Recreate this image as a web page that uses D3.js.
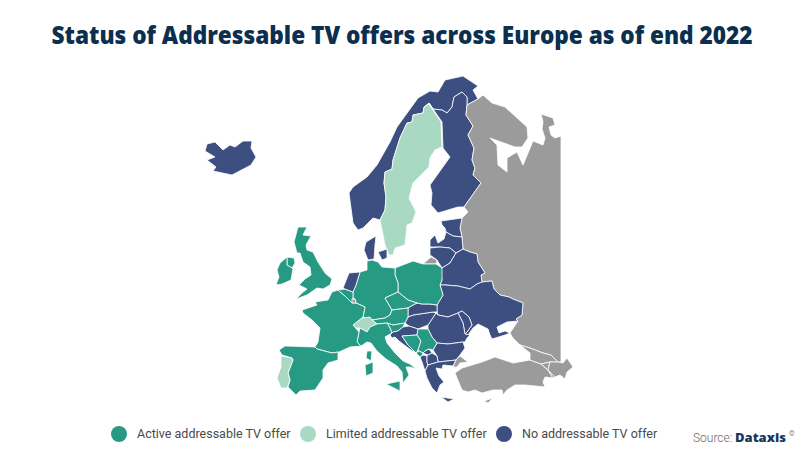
<!DOCTYPE html>
<html>
<head>
<meta charset="utf-8">
<script src="https://cdn.jsdelivr.net/npm/d3@7"></script>
<style>
  html, body { margin: 0; padding: 0; background: #fff; }
  svg { display: block; }
  .pais { stroke: #fff; stroke-width: 0.8; stroke-linejoin: round; }
</style>
</head>
<body>
<div id="map"></div>
<script>
// Estado de cada pais
const statusLabels = ['Active addressable TV offer', 'Limited addressable TV offer', 'No addressable TV offer'];
const activeCountries = ['UK', 'NorthernIreland', 'Ireland', 'France', 'Corsica', 'Sardinia', 'Sicily', 'Italy', 'Spain', 'Belgium', 'Germany', 'Poland', 'Austria', 'Czechia', 'Slovenia', 'Bosnia', 'Serbia', 'Montenegro'];
const limitedCountries = ['Sweden', 'Portugal', 'Switzerland'];
const noOfferCountries = ['Iceland', 'Norway', 'Finland', 'Estonia', 'Latvia', 'Lithuania', 'Belarus', 'Ukraine', 'Moldova', 'Romania', 'Bulgaria', 'Hungary', 'Slovakia', 'Croatia', 'Kosovo', 'Albania', 'NorthMacedonia', 'Greece', 'Crete', 'Netherlands', 'Jutland', 'Zealand'];
const noDataCountries = ['Russia', 'Kaliningrad', 'Luxembourg', 'Turkey', 'TurkeyThrace', 'Cyprus', 'Georgia', 'Armenia', 'Azerbaijan'];

const outlines = {
  Iceland: [[205,151],[207,144],[215,142],[223,150],[230,145],[235,147],[243,141],[252,141],[251,148],[256,157],[251,165],[232,175],[213,171],[216,167],[207,160],[215,157]],
  Norway: [[358,230],[353,223],[349,193],[353,187],[367,177],[377,165],[390,142],[397,127],[418,98],[430,91],[438,92],[445,80],[463,76],[478,86],[473,90],[478,99],[467,105],[467,97],[462,92],[454,97],[452,107],[447,113],[442,110],[433,109],[429,103],[424,107],[423,113],[413,115],[412,122],[407,123],[400,138],[393,160],[392,169],[385,172],[384,183],[386,197],[385,210],[380,220],[373,218],[363,228]],
  Sweden: [[424,107],[429,104],[433,110],[441,122],[442,147],[435,150],[430,158],[429,167],[413,183],[409,198],[416,212],[412,223],[407,225],[405,245],[395,248],[393,255],[389,255],[385,245],[380,220],[385,210],[386,197],[384,183],[385,172],[392,169],[393,160],[400,138],[407,123],[412,122],[413,115],[423,113]],
  Finland: [[429,103],[433,109],[442,110],[447,113],[452,107],[454,97],[462,92],[467,97],[467,105],[466,115],[473,126],[468,135],[474,148],[472,160],[475,168],[473,175],[481,183],[464,207],[458,207],[438,213],[431,205],[432,193],[430,185],[450,157],[443,148],[442,122]],
  Russia: [[483,95],[492,103],[505,107],[527,127],[528,138],[522,147],[515,147],[490,138],[497,145],[498,165],[507,172],[507,158],[517,152],[523,165],[533,141],[543,145],[545,138],[542,129],[543,122],[541,114],[553,118],[555,125],[549,127],[551,135],[555,138],[561,136],[561,362],[558,362],[551,355],[543,353],[530,348],[520,345],[513,338],[510,333],[512,330],[518,321],[516,319],[522,315],[523,303],[513,299],[509,297],[500,295],[494,289],[492,281],[482,282],[481,275],[485,273],[478,262],[477,254],[470,252],[463,249],[462,237],[460,228],[462,218],[468,212],[464,207],[481,183],[473,175],[475,168],[472,160],[474,148],[468,135],[473,126],[466,115],[467,105],[478,99]],
  Estonia: [[441,221],[462,218],[460,228],[462,237],[453,236],[446,232],[445,228],[442,225]],
  Latvia: [[430,247],[430,240],[435,235],[438,243],[444,239],[446,232],[453,236],[462,237],[463,249],[456,253],[450,248],[440,247]],
  Lithuania: [[430,248],[440,247],[450,248],[456,253],[450,263],[442,268],[437,260],[430,255]],
  Kaliningrad: [[423,264],[431,257],[437,260],[436,264]],
  Belarus: [[463,249],[456,253],[450,263],[442,268],[440,268],[442,280],[440,285],[445,285],[458,286],[470,289],[477,284],[482,282],[481,275],[485,273],[478,262],[477,254],[470,252]],
  Ukraine: [[445,285],[440,285],[443,295],[437,305],[437,312],[438,315],[448,317],[458,313],[462,311],[469,317],[472,325],[467,332],[465,334],[468,335],[473,328],[478,324],[488,329],[490,335],[492,339],[505,335],[510,333],[505,331],[499,333],[497,327],[507,322],[518,321],[516,319],[522,315],[523,303],[513,299],[509,297],[500,295],[494,289],[492,281],[482,282],[477,284],[470,289],[458,286]],
  Moldova: [[458,313],[462,311],[469,317],[472,325],[467,332],[465,334],[463,323]],
  Romania: [[436,313],[438,315],[448,317],[458,313],[463,323],[465,334],[470,335],[467,338],[465,342],[463,342],[448,344],[437,343],[432,337],[428,329],[428,325]],
  Bulgaria: [[437,343],[448,344],[463,342],[465,348],[460,355],[456,360],[438,362],[437,356],[433,350]],
  Hungary: [[408,317],[413,315],[433,312],[436,313],[428,325],[418,329],[409,326],[405,323]],
  Slovakia: [[408,308],[413,305],[417,303],[422,304],[430,304],[437,305],[437,312],[433,312],[413,315],[408,317]],
  Poland: [[395,268],[413,261],[423,264],[436,264],[442,268],[442,280],[440,285],[443,295],[437,305],[430,304],[422,304],[417,303],[408,300],[398,292],[398,283],[395,275]],
  Germany: [[367,261],[372,260],[378,262],[382,267],[395,268],[395,275],[398,283],[398,292],[385,298],[392,310],[390,315],[385,318],[372,320],[363,317],[365,307],[356,303],[355,299],[353,298],[353,292],[356,285],[360,272],[367,270]],
  Czechia: [[385,298],[398,292],[408,300],[417,303],[413,305],[408,308],[392,310]],
  Austria: [[372,320],[385,318],[390,315],[392,310],[408,308],[408,317],[405,323],[393,325],[387,323],[377,324]],
  Switzerland: [[353,325],[362,318],[370,317],[372,320],[377,324],[370,327],[367,332],[360,328],[355,328]],
  Slovenia: [[387,323],[393,325],[405,323],[403,327],[398,331],[393,332],[392,333],[390,328]],
  Italy: [[360,328],[367,332],[370,327],[377,324],[387,323],[390,328],[392,333],[385,337],[387,343],[395,353],[403,361],[410,364],[416,369],[410,367],[406,367],[409,375],[403,383],[402,372],[397,366],[386,359],[377,351],[371,343],[367,342],[361,346],[357,342],[359,332]],
  Corsica: [[367,351],[372,351],[371,361],[366,358]],
  Sardinia: [[365,365],[373,362],[373,373],[366,376]],
  Sicily: [[386,384],[400,381],[400,391]],
  France: [[338,290],[345,296],[352,303],[356,303],[365,307],[363,317],[353,325],[359,332],[357,342],[361,346],[350,347],[339,352],[332,353],[317,349],[315,347],[318,342],[320,328],[312,320],[303,313],[302,310],[317,305],[315,302],[328,300],[332,292]],
  Belgium: [[338,290],[345,289],[353,292],[353,298],[352,303],[345,296]],
  Luxembourg: [[352,299],[355,299],[356,303],[352,303]],
  Netherlands: [[345,289],[343,288],[349,273],[360,272],[356,285],[353,292]],
  Jutland: [[366,242],[376,236],[375,245],[374,259],[368,260],[364,250]],
  Zealand: [[378,252],[387,249],[387,258],[382,260]],
  UK: [[298,227],[307,227],[303,235],[311,236],[306,245],[307,250],[313,252],[318,262],[325,273],[332,279],[330,285],[323,289],[317,288],[307,295],[296,299],[302,293],[307,289],[299,285],[305,279],[311,275],[310,267],[303,262],[300,253],[297,253],[294,242]],
  NorthernIreland: [[287,257],[294,258],[295,263],[292,268],[287,265]],
  Ireland: [[287,257],[287,265],[292,268],[293,269],[291,280],[282,284],[276,285],[279,277],[277,270],[280,263]],
  Spain: [[279,350],[285,346],[315,347],[317,349],[332,353],[338,352],[338,360],[328,363],[323,370],[323,378],[315,390],[300,391],[296,395],[288,387],[290,380],[288,373],[293,360],[292,358],[282,355]],
  Portugal: [[281,356],[292,358],[293,360],[288,373],[290,380],[287,388],[281,388],[277,378],[281,367]],
  Croatia: [[392,333],[393,332],[398,331],[403,327],[409,326],[418,329],[417,335],[402,336],[408,345],[416,353],[411,350],[399,341],[395,337],[392,338],[390,335]],
  Bosnia: [[402,336],[417,335],[421,341],[418,350],[416,353],[408,345]],
  Serbia: [[418,329],[428,329],[432,337],[437,343],[433,350],[429,349],[425,351],[423,353],[419,351],[418,350],[421,341],[417,335]],
  Montenegro: [[416,353],[419,351],[423,353],[422,356],[420,357]],
  Kosovo: [[425,351],[429,349],[432,353],[428,355],[423,353]],
  Albania: [[420,357],[422,356],[423,355],[427,356],[427,362],[428,365],[425,371],[422,362]],
  NorthMacedonia: [[427,356],[428,355],[432,353],[437,356],[438,362],[428,365],[427,362]],
  Greece: [[428,365],[438,362],[456,360],[453,366],[443,365],[442,369],[436,368],[439,376],[444,382],[440,385],[437,393],[432,388],[427,378],[425,371]],
  Crete: [[441,397],[454,399],[448,402]],
  Turkey: [[455,373],[462,368],[482,362],[495,357],[513,363],[530,360],[541,364],[548,370],[553,378],[545,377],[543,382],[545,387],[525,385],[515,385],[507,390],[503,395],[502,390],[493,390],[482,393],[475,390],[468,392],[462,390],[457,378]],
  TurkeyThrace: [[453,367],[456,360],[460,356],[468,362],[460,363],[457,367]],
  Cyprus: [[484,401],[493,398],[488,403]],
  Georgia: [[520,345],[530,348],[543,353],[551,355],[558,362],[550,362],[541,364],[530,360],[530,353]],
  Armenia: [[541,364],[550,362],[548,370],[555,377],[553,378],[548,370]],
  Azerbaijan: [[550,362],[558,362],[563,363],[567,358],[573,367],[567,372],[565,379],[560,375],[555,377],[548,370]]
};

const width = 800;
const height = 450;

const color = d3.scaleOrdinal()
  .domain(['active', 'limited', 'none', 'nodata'])
  .range(['#279a84', '#a9d9c2', '#3d4f80', '#9b9b9b']);

const statusOf = {};
activeCountries.forEach(c => statusOf[c] = 'active');
limitedCountries.forEach(c => statusOf[c] = 'limited');
noOfferCountries.forEach(c => statusOf[c] = 'none');
noDataCountries.forEach(c => statusOf[c] = 'nodata');

const features = Object.keys(outlines).map(name => ({
  type: 'Feature',
  properties: { name: name, status: statusOf[name] },
  geometry: { type: 'Polygon', coordinates: [outlines[name].concat([outlines[name][0]])] }
}));

const svg = d3.select('#map').append('svg')
  .attr('width', width)
  .attr('height', height);

const path = d3.geoPath(d3.geoIdentity());

svg.append('g').selectAll('path')
  .data(features)
  .enter().append('path')
  .attr('class', 'pais')
  .attr('d', path)
  .attr('fill', d => color(d.properties.status));

// Titulo
svg.append('text')
  .attr('x', 402)
  .attr('y', 44)
  .attr('text-anchor', 'middle')
  .attr('font-family', '"Open Sans", "Noto Sans", sans-serif')
  .attr('font-weight', 800)
  .attr('font-size', 24)
  .attr('textLength', 701)
  .attr('lengthAdjust', 'spacingAndGlyphs')
  .attr('fill', '#0c2f50')
  .text('Status of Addressable TV offers across Europe as of end 2022');

// Leyenda
const legendX = d3.scaleOrdinal().domain(statusLabels).range([119, 308, 504]);
const legendKeys = d3.scaleOrdinal().domain(statusLabels).range(['active', 'limited', 'none']);

const legend = svg.append('g').selectAll('g')
  .data(statusLabels)
  .enter().append('g')
  .attr('transform', d => `translate(${legendX(d)},434)`);

legend.append('circle')
  .attr('r', 8)
  .attr('fill', d => color(legendKeys(d)));

legend.append('text')
  .attr('x', 18)
  .attr('y', 4)
  .attr('font-family', 'Roboto, sans-serif')
  .attr('font-size', 12.5)
  .attr('fill', '#4a4a4a')
  .text(d => d);

// Fuente
svg.append('text')
  .attr('x', 693)
  .attr('y', 442)
  .attr('font-family', 'Roboto, sans-serif')
  .attr('font-size', 12)
  .attr('font-weight', 300)
  .attr('fill', '#666')
  .text('Source:');

svg.append('text')
  .attr('x', 735)
  .attr('y', 442)
  .attr('font-family', '"Open Sans", sans-serif')
  .attr('font-size', 13)
  .attr('font-weight', 800)
  .attr('fill', '#17395c')
  .text('Dataxis');

svg.append('text')
  .attr('x', 789)
  .attr('y', 436)
  .attr('font-family', 'Roboto, sans-serif')
  .attr('font-size', 7)
  .attr('fill', '#777')
  .text('©');
</script>
</body>
</html>
